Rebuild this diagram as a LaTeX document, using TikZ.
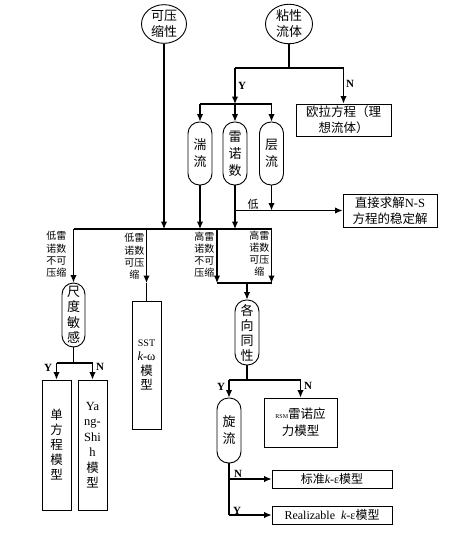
\documentclass[tikz,border=0pt]{standalone}
\usepackage{fontspec}
\setmainfont{Liberation Serif}
\newfontfamily\cjk{Noto Sans CJK SC}
\usetikzlibrary{arrows.meta,shapes.geometric}
\begin{document}
\begin{tikzpicture}[x=1pt,y=-1pt,
 line width=1.2pt,
 arr/.style={-{Latex[length=7.5pt,width=6.5pt]}},
 ell/.style={draw,ellipse,line width=0.9pt,inner sep=0pt,minimum width=45pt,minimum height=36pt,align=center,font=\cjk\fontsize{13}{16}\selectfont},
 capsule/.style={draw,rectangle,rounded corners=11.5pt,line width=0.9pt,inner sep=0pt,minimum width=24pt,align=center},
 box/.style={draw,rectangle,line width=0.9pt,inner sep=0pt,align=center},
 lab/.style={font=\cjk\fontsize{10}{12.3}\selectfont,align=center,inner sep=0pt},
 yn/.style={font=\bfseries\fontsize{11}{11}\selectfont,inner sep=0pt}
]
\useasboundingbox (0,0) rectangle (474,533);
% top nodes
\node[ell] (ks) at (164,24) {可压\\缩性};
\node[ell,minimum width=47pt] (nx) at (289,24) {粘性\\流体};
\node[box,minimum width=95pt,minimum height=32pt,font=\cjk\fontsize{12.5}{16}\selectfont] (eu) at (343.5,120) {欧拉方程（理\\想流体）};
\node[capsule,minimum height=63pt,font=\cjk\fontsize{13}{17}\selectfont] (tl) at (200,153.5) {湍\\流};
\node[capsule,minimum height=63pt,font=\cjk\fontsize{13}{17}\selectfont] (lns) at (235,153.5) {雷\\诺\\数};
\node[capsule,minimum height=63pt,font=\cjk\fontsize{13}{17}\selectfont] (cl) at (271.5,153.5) {层\\流};
\node[box,minimum width=94pt,minimum height=33pt,font=\cjk\fontsize{12.5}{16}\selectfont] (ns) at (390,210.5) {直接求解{\rmfamily N-S}\\方程的稳定解};
% middle
\node[capsule,minimum width=23pt,minimum height=64pt,font=\cjk\fontsize{13}{15.5}\selectfont] (cd) at (73.5,315) {尺\\度\\敏\\感};
\node[box,minimum width=29pt,minimum height=130pt,font=\cjk\fontsize{12.5}{15}\selectfont] (dfc) at (56.5,445) {单\\方\\程\\模\\型};
\node[box,minimum width=29pt,minimum height=130pt,font=\cjk\fontsize{12.5}{15.5}\selectfont] (ys) at (92.5,445) {{\rmfamily Ya}\\{\rmfamily ng-}\\{\rmfamily Shi}\\{\rmfamily h}\\模\\型};
\node[box,minimum width=29pt,minimum height=128pt,font=\cjk\fontsize{12.5}{14.5}\selectfont] (sst) at (146.5,365) {{\rmfamily\fontsize{10}{14.5}\selectfont SST}\\{\rmfamily\itshape k}{\rmfamily -ω}\\模\\型};
\node[capsule,minimum height=65pt,font=\cjk\fontsize{13}{15}\selectfont] (gx) at (247,332.5) {各\\向\\同\\性};
\node[capsule,minimum height=65pt,font=\cjk\fontsize{13}{17}\selectfont] (xl) at (229,430.5) {旋\\流};
\node[box,minimum width=73pt,minimum height=49pt,font=\cjk\fontsize{12.5}{17}\selectfont] (rsm) at (300.5,422.5) {{\rmfamily\fontsize{6}{6}\selectfont RSM}雷诺应\\力模型};
\node[box,minimum width=120pt,minimum height=18pt,font=\cjk\fontsize{12}{14}\selectfont] (bz) at (332,479) {标准{\rmfamily\itshape k}{\rmfamily -ε}模型};
\node[box,minimum width=120pt,minimum height=18pt,font=\cjk\fontsize{12}{14}\selectfont] (rz) at (332,515) {{\rmfamily Realizable\ \ \itshape k}{\rmfamily -ε}模型};
% coordinates
\coordinate (j1) at (289,68);
\coordinate (j1l) at (235,68);
\coordinate (j1r) at (343.5,68);
\coordinate (j2) at (235,104);
\coordinate (hL) at (73.5,229);
\coordinate (hR) at (271.5,229);
\coordinate (h3b) at (217,283);
\coordinate (j5) at (73.5,363);
\coordinate (j6) at (247,380);
% top connectors
\draw (nx.south) -- (j1);
\draw (j1l) -- (j1r);
\draw[arr] (j1l) -- (j2);
\draw[arr] (j1r) -- (eu.north);
\draw (tl.north |- j2) -- (cl.north |- j2);
\draw[arr] (tl.north |- j2) -- (tl.north);
\draw[arr] (j2) -- (lns.north);
\draw[arr] (cl.north |- j2) -- (cl.north);
\node[yn] (y1) at (242,86) {Y};
\node[yn] (n1) at (350,84) {N};
% to horizontal bar
\draw[arr] (ks.south) -- (ks.south |- hL);
\draw[arr] (tl.south) -- (tl.south |- hL);
\draw[arr] (lns.south) -- (lns.south |- hL);
\coordinate (low) at (lns.south |- ns.west);
\draw[arr] (low) -- (ns.west);
\draw[arr] (cl.south) -- (cl.south |- low);
\node[font=\cjk\fontsize{11}{11}\selectfont,inner sep=0pt] (di) at (253,204) {低};
\draw (hL) -- (hR);
% four branches
\draw[arr] (hL) -- (cd.north);
\coordinate (h2) at (sst.north |- hL);
\coordinate (h2b) at (sst.north |- h3b);
\draw[arr] (h2) -- (h2b);
\draw (h2b) -- (sst.north);
\draw[arr] (h3b |- hL) -- (h3b);
\draw[arr] (hR) -- (hR |- h3b);
\draw (h3b) -- (hR |- h3b);
\draw[arr] (gx.north |- h3b) -- (gx.north);
\node[lab,anchor=north east] (l1) at (67,231) {低雷\\诺数\\不可\\压缩};
\node[lab,anchor=north east] (l2) at (145,233) {低雷\\诺数\\可压\\缩};
\node[lab,anchor=north east] (l3) at (215,231) {高雷\\诺数\\不可\\压缩};
\node[lab,anchor=north east] (l4) at (270,230) {高雷\\诺数\\可压\\缩};
% scale sensitivity
\draw (cd.south) -- (j5);
\draw (dfc.north |- j5) -- (ys.north |- j5);
\draw[arr] (dfc.north |- j5) -- (dfc.north);
\draw[arr] (ys.north |- j5) -- (ys.north);
\node[yn] (y2) at (48,368) {Y};
\node[yn] (n2) at (100,367) {N};
% isotropy
\draw (gx.south) -- (j6);
\draw (xl.north |- j6) -- (rsm.north |- j6);
\draw[arr] (xl.north |- j6) -- (xl.north);
\draw[arr] (rsm.north |- j6) -- (rsm.north);
\node[yn] (y3) at (221,387) {Y};
\node[yn] (n3) at (308,386) {N};
% swirl
\draw (xl.south) -- (xl.south |- rz.west);
\draw[arr] (xl.south |- bz.west) -- (bz.west);
\draw[arr] (xl.south |- rz.west) -- (rz.west);
\node[yn] (n4) at (238,474) {N};
\node[yn] (y4) at (237,511) {Y};
\end{tikzpicture}
\end{document}
